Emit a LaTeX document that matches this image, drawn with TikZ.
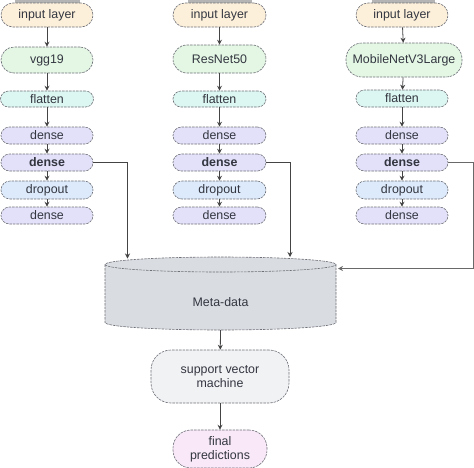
\documentclass[tikz,border=0pt]{standalone}
\usepackage{fontspec}
\setmainfont{Liberation Sans}
\usetikzlibrary{arrows.meta}
\definecolor{txt}{HTML}{333640}
\definecolor{edge}{HTML}{6E7078}
\definecolor{ln}{HTML}{444444}
\definecolor{cin}{HTML}{FDF0DA}
\definecolor{cmod}{HTML}{E4F7E4}
\definecolor{cfl}{HTML}{DCF6F1}
\definecolor{cde}{HTML}{E2E1F9}
\definecolor{cdo}{HTML}{DCEAFB}
\definecolor{ccyl}{HTML}{D9DCE1}
\definecolor{csvm}{HTML}{F1F2F4}
\definecolor{cfin}{HTML}{F8E8F8}
\definecolor{cbar}{HTML}{B4B4B4}
\tikzset{
  x=1pt,y=1pt,
  blk/.style={draw=edge, line width=0.6pt, dash pattern=on 2.5pt off 1pt,
    text=txt, inner sep=0pt, align=center,
    font=\fontsize{12.4}{14}\selectfont},
  pill/.style 2 args={blk, rectangle, minimum width=#1, minimum height=#2,
    rounded corners=#2/2},
  arr/.style={draw=ln, line width=0.8pt, -{Stealth[length=5pt,width=5pt]}},
}
\begin{document}
\begin{tikzpicture}
\useasboundingbox (0,0) rectangle (474,-467);
\begin{scope}
\clip (0,0) rectangle (474,-467);
% grey bars at top
\fill[cbar] (15,2) rectangle (80,-3);
\fill[cbar] (188,2) rectangle (252,-3);
\fill[cbar] (372,2) rectangle (435,-3);

% column 1
\node[pill={92}{24}, fill=cin] (in1) at (47,-15) {input layer};
\node[pill={92}{26}, fill=cmod] (m1) at (47,-60) {vgg19};
\node[pill={93}{16}, fill=cfl] (f1) at (47,-99) {flatten};
\node[pill={92}{17}, fill=cde] (da1) at (47,-135.5) {dense};
\node[pill={92}{17}, fill=cde, font=\fontsize{12.4}{14}\selectfont\bfseries] (db1) at (47,-162.5) {dense};
\node[pill={92}{18}, fill=cdo] (do1) at (47,-190) {dropout};
\node[pill={92}{17}, fill=cde] (dc1) at (47,-215.5) {dense};

% column 2
\node[pill={93}{24}, fill=cin] (in2) at (219.5,-15) {input layer};
\node[pill={93}{28}, fill=cmod] (m2) at (219.5,-59) {ResNet50};
\node[pill={93}{16}, fill=cfl] (f2) at (219.5,-99) {flatten};
\node[pill={93}{17}, fill=cde] (da2) at (219.5,-135.5) {dense};
\node[pill={93}{17}, fill=cde, font=\fontsize{12.4}{14}\selectfont\bfseries] (db2) at (219.5,-162.5) {dense};
\node[pill={93}{18}, fill=cdo] (do2) at (219.5,-190) {dropout};
\node[pill={93}{17}, fill=cde] (dc2) at (219.5,-215.5) {dense};

% column 3
\node[pill={92}{24}, fill=cin] (in3) at (402,-15) {input layer};
\node[blk, rectangle, minimum width=116, minimum height=34, rounded corners=16, fill=cmod] (m3) at (404,-60) {MobileNetV3Large};
\node[pill={92}{17}, fill=cfl] (f3) at (402,-98.5) {flatten};
\node[pill={92}{17}, fill=cde] (da3) at (402,-135.5) {dense};
\node[pill={92}{17}, fill=cde, font=\fontsize{12.4}{14}\selectfont\bfseries] (db3) at (402,-162.5) {dense};
\node[pill={92}{18}, fill=cdo] (do3) at (402,-190) {dropout};
\node[pill={92}{17}, fill=cde] (dc3) at (402,-215.5) {dense};

% cylinder (Meta-data)
\fill[ccyl] (105,-264.5) -- (105,-322.5) arc (180:360:115.5 and 7.5)
  -- (336,-264.5) arc (0:180:115.5 and 7.5) -- cycle;
\draw[draw=edge, line width=0.6pt, dash pattern=on 2.5pt off 1pt]
  (105,-264.5) -- (105,-322.5) arc (180:360:115.5 and 7.5)
  -- (336,-264.5) arc (0:180:115.5 and 7.5) -- cycle;
\draw[draw=edge, line width=0.6pt, dash pattern=on 2.5pt off 1pt]
  (105,-264.5) arc (180:360:115.5 and 7.5);
\node[text=txt, font=\fontsize{12.4}{14}\selectfont] (meta) at (220.5,-302) {Meta-data};
\coordinate (metabot) at (220.5,-330);
\coordinate (tin1) at (127.5,-258.5);
\coordinate (tin2) at (290,-257);
\coordinate (tin3) at (338,-268.5);

\node[blk, rectangle, minimum width=138, minimum height=53, rounded corners=20, fill=csvm] (svm) at (220,-376.5) {support vector\\machine};
\node[blk, rectangle, minimum width=94, minimum height=38, rounded corners=18, fill=cfin] (fin) at (220,-449) {final\\predictions};

% arrows in columns
\foreach \c in {1,2,3}{
  \draw[arr] (in\c) -- (m\c);
  \draw[arr] (m\c) -- (f\c);
  \draw[arr] (f\c) -- (da\c);
  \draw[arr] (da\c) -- (db\c);
  \draw[arr] (db\c) -- (do\c);
  \draw[arr] (do\c) -- (dc\c);
}
% connectors to meta-data
\draw[arr] (db1.east) -| (tin1);
\draw[arr] (db2.east) -| (tin2);
\draw[arr, draw=ln!80] (db3.east) -- (473,-162.5) |- (tin3);
\draw[arr] (metabot) -- (svm);
\draw[arr] (svm) -- (fin);
\end{scope}
\end{tikzpicture}
\end{document}
